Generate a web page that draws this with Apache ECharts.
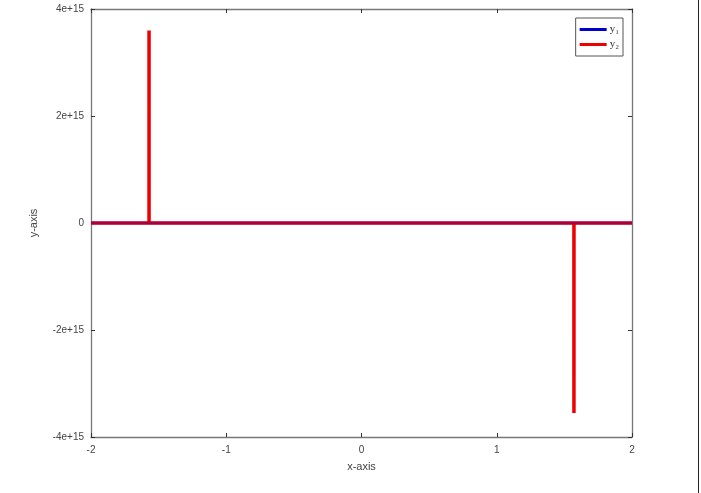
<!DOCTYPE html>
<html>
<head>
<meta charset="utf-8">
<script src="https://cdn.jsdelivr.net/npm/echarts@6/dist/echarts.min.js"></script>
<style>html,body{margin:0;padding:0;background:#fff}#c{width:701px;height:493px}</style>
</head>
<body>
<div id="c"></div>
<script>
// Data
var xValues = [-2, -1.75, -1.5, -1.5710, -1.5708, -1.5706, -1.25, -1, -0.5, 0, 0.5, 1, 1.25, 1.5706, 1.5708, 1.5710, 1.75, 2];
var y1Values = [-0.91, -0.98, -1.0, -1.0, -1.0, -1.0, -0.95, -0.84, -0.48, 0, 0.48, 0.84, 0.95, 1.0, 1.0, 1.0, 0.98, 0.91];
var y2Values = [2.19, 5.52, 14.1, 5000, 3.6e15, -5000, -3.01, -1.56, -0.55, 0, 0.55, 1.56, 3.01, 5000, -3.55e15, -5000, -5.52, -2.19];
var xTicks = [-2, -1, 0, 1, 2];
var yTicks = [-4e15, -2e15, 0, 2e15, 4e15];
var seriesNames = ['y\u2081', 'y\u2082'];

function pairs(ys) {
  var p = xValues.map(function (x, i) { return [x, ys[i]]; });
  p.sort(function (a, b) { return a[0] - b[0]; });
  return p;
}

function yLabel(v) {
  if (v === 0) return '0';
  var e = Math.floor(Math.log10(Math.abs(v)));
  var m = v / Math.pow(10, e);
  return m + 'e+' + e;
}

var chart = echarts.init(document.getElementById('c'), null, {renderer: 'canvas'});
var labelStyle = {color: '#444', fontSize: 10, fontFamily: 'Liberation Sans, Arial, sans-serif'};
var axisLineStyle = {color: '#777', width: 1.3};

chart.setOption({
  animation: false,
  backgroundColor: '#fff',
  grid: {left: 91, right: 69, top: 9, bottom: 56},
  legend: {
    right: 78, top: 18,
    orient: 'vertical',
    icon: 'rect',
    itemWidth: 27, itemHeight: 3, itemGap: 2,
    padding: [5, 4, 5, 4],
    borderColor: '#555', borderWidth: 1,
    backgroundColor: '#fff',
    textStyle: {fontSize: 11, lineHeight: 13, fontFamily: 'Liberation Serif, DejaVu Serif, serif', color: '#333', padding: [0, 0, 0, -2]},
    data: [
      {name: seriesNames[0], itemStyle: {opacity: 1, color: '#0000cc'}},
      {name: seriesNames[1], itemStyle: {opacity: 1, color: '#ee0000'}}
    ]
  },
  xAxis: [{
    type: 'value', min: -2, max: 2, interval: 1,
    name: 'x-axis', nameLocation: 'middle', nameGap: 24,
    nameTextStyle: {color: '#444', fontSize: 11, fontFamily: 'Liberation Sans, Arial, sans-serif'},
    axisLine: {show: true, onZero: false, lineStyle: axisLineStyle},
    axisTick: {show: true, inside: true, length: 4, lineStyle: {color: '#333'}},
    axisLabel: Object.assign({margin: 8, formatter: function (v) { return String(v); }}, labelStyle),
    splitLine: {show: false}
  }, {
    type: 'value', min: -2, max: 2, interval: 1, position: 'top',
    axisLine: {show: true, onZero: false, lineStyle: axisLineStyle},
    axisTick: {show: true, inside: true, length: 4, lineStyle: {color: '#333'}},
    axisLabel: {show: false}, splitLine: {show: false}
  }],
  yAxis: [{
    type: 'value', min: -4e15, max: 4e15, interval: 2e15,
    name: 'y-axis', nameLocation: 'middle', nameGap: 52,
    nameTextStyle: {color: '#444', fontSize: 11, fontFamily: 'Liberation Sans, Arial, sans-serif'},
    axisLine: {show: true, onZero: false, lineStyle: axisLineStyle},
    axisTick: {show: true, inside: true, length: 4, lineStyle: {color: '#333'}},
    axisLabel: Object.assign({margin: 7, formatter: yLabel}, labelStyle),
    splitLine: {show: false}
  }, {
    type: 'value', min: -4e15, max: 4e15, interval: 2e15, position: 'right',
    axisLine: {show: true, onZero: false, lineStyle: axisLineStyle},
    axisTick: {show: true, inside: true, length: 4, lineStyle: {color: '#333'}},
    axisLabel: {show: false}, splitLine: {show: false}
  }],
  series: [{
    name: seriesNames[0], type: 'line', data: pairs(y1Values),
    symbol: 'none', z: 4,
    lineStyle: {color: '#0000cc', width: 3, opacity: 0.3},
    itemStyle: {color: '#0000cc'}
  }, {
    name: seriesNames[1], type: 'line', data: pairs(y2Values),
    symbol: 'none', z: 3,
    lineStyle: {color: '#ee0000', width: 3.5},
    itemStyle: {color: '#ee0000'}
  }],
  graphic: [{
    type: 'line', shape: {x1: 698.5, y1: 0, x2: 698.5, y2: 493},
    style: {stroke: '#222', lineWidth: 1}
  }]
});
</script>
</body>
</html>
